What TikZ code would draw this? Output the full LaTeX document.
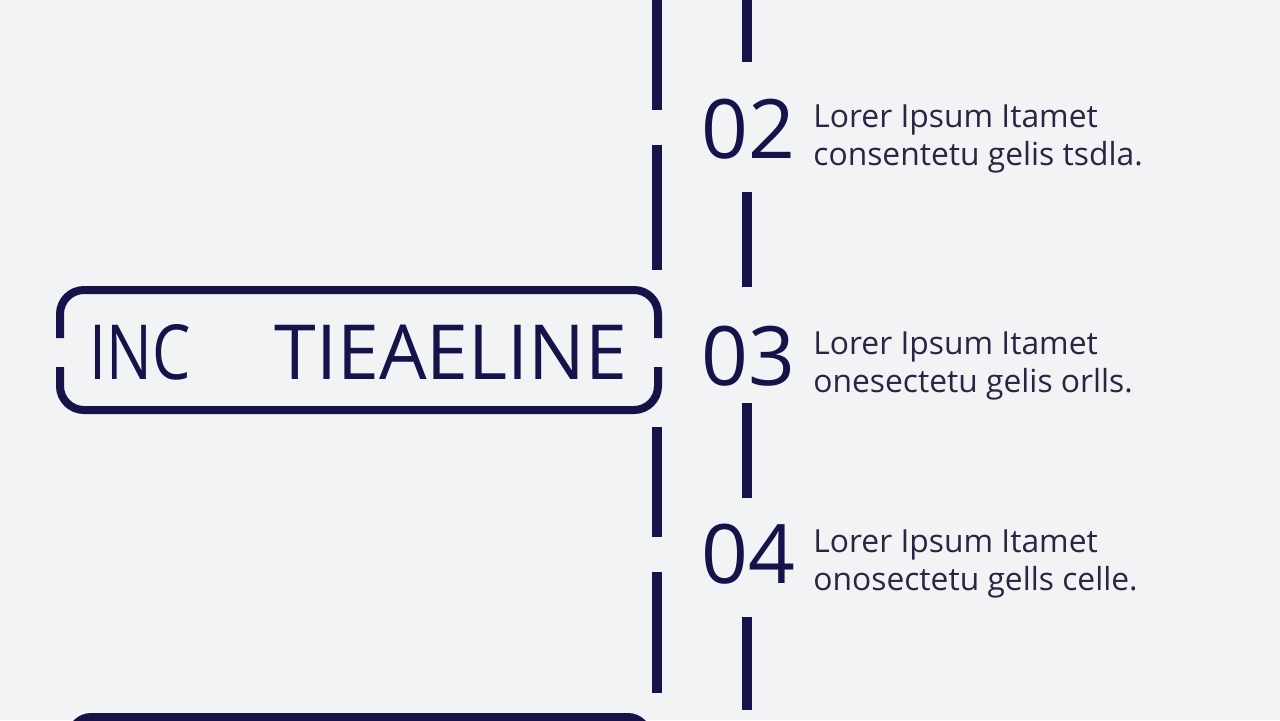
\documentclass[tikz,border=0pt]{standalone}
\usepackage{fontspec}
\setmainfont{Open Sans}
\usetikzlibrary{positioning}
\definecolor{navy}{RGB}{22,18,74}
\definecolor{paper}{RGB}{242,243,245}
\definecolor{ink}{RGB}{40,38,66}
\tikzset{
    rail/.style={navy, line width=4.6pt},
    frameline/.style={navy, line width=4pt, rounded corners=12pt},
    titletext/.style={navy, font=\fontsize{38}{38}\selectfont, inner sep=0pt},
    stepnum/.style={navy, font=\fontsize{41}{41}\selectfont, anchor=base west, inner sep=0pt},
    steptext/.style={ink, font=\fontsize{15.9}{20}\selectfont, anchor=base west, inner sep=0pt},
}

\begin{document}
\begin{tikzpicture}[x=0.5pt, y=-0.5pt]
    \fill [paper] (0,0) rectangle (1280,720);
    \useasboundingbox (0,0) rectangle (1280,720);
    \clip (0,0) rectangle (1280,720);
    \coordinate (RailL) at (657,0);
    \coordinate (RailR) at (747,0);
    \foreach \a/\b in {-10/110,145/270,427/537,572/693}{% left rail pieces
        \draw [rail] ([yshift=-\a*0.5pt]RailL) -- ([yshift=-\b*0.5pt]RailL);
    }
    \foreach \a/\b in {-10/62,192/287,403/498,617/710}{% right rail pieces
        \draw [rail] ([yshift=-\a*0.5pt]RailR) -- ([yshift=-\b*0.5pt]RailR);
    }
    % title frame, open at both sides
    \draw [frameline] (60,338) -- (60,290) -- (658,290) -- (658,338);
    \draw [frameline] (60,367) -- (60,410) -- (658,410) -- (658,367);
    \node [titletext] (TitleA) at (140,352) {\scalebox{0.8}[1]{INC}};
    \node [titletext] (TitleB) at (451,352) {\scalebox{0.99}[1]{TIEAELINE}};
    % next frame, cut by the page
    \fill [navy, rounded corners=12pt] (67,713) rectangle (652,800);
    \foreach \n/\y/\lineb in {02/158/{consentetu gelis tsdla.},03/385/{onesectetu gelis orlls.},04/583/{onosectetu gells celle.}}{% one step each
        \node [stepnum] (Num\n) at (701,\y) {\n};
        \node [steptext] (TxtA\n) at (813,\y-31) {Lorer Ipsum Itamet};
        \node [steptext] (TxtB\n) at (813,\y+7) {\lineb};
    }
\end{tikzpicture}
\end{document}
